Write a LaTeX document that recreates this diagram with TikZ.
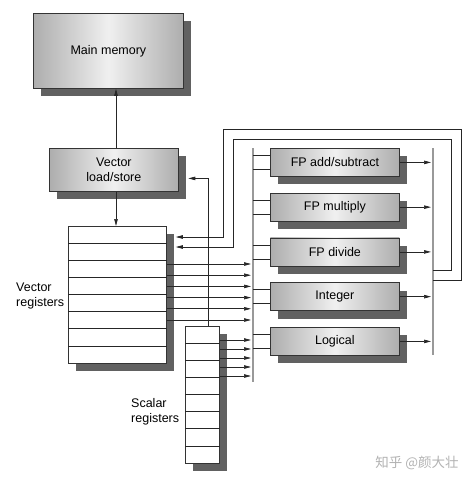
\documentclass[tikz,border=0pt]{standalone}
\usepackage{fontspec}
\setmainfont{Liberation Sans}
\newfontfamily\cjk{Noto Sans CJK SC}
\usetikzlibrary{arrows.meta,shadows,calc}

\tikzset{
  shad/.style={drop shadow={shadow xshift=8pt, shadow yshift=-8pt, fill=black!62, opacity=1}},
  box/.style={shad, draw=black!80, line width=0.8pt, left color=black!32, right color=black!32,
    middle color=black!6, align=center, inner sep=0pt, font=\fontsize{12.5}{14.6}\selectfont},
  regs/.style={shad, draw=black!80, line width=0.8pt, fill=white, inner sep=0pt},
  lbl/.style={anchor=west, align=left, inner sep=0pt, font=\fontsize{12.5}{15}\selectfont},
  bus/.style={line width=1.8pt, black!40},
  wire/.style={line width=0.7pt, black!85},
  arr/.style={wire, -{Triangle[length=7pt,width=3.5pt]}},
}

\begin{document}
\begin{tikzpicture}[x=1pt,y=-1pt]
\useasboundingbox (0,0) rectangle (474,482);

% memory and load/store unit
\node[box, anchor=north west, minimum width=150pt, minimum height=75pt] (mem) at (33,13) {Main memory};
\node[box, anchor=north west, minimum width=129pt, minimum height=43pt] (ls) at (49,148) {Vector\\load/store};

% register files
\node[regs, anchor=north west, minimum width=98pt, minimum height=137pt] (vreg) at (68,226) {};
\foreach \k in {1,...,7}
  \draw[wire] ($(vreg.north west)+(0,{\k*137/8})$) -- ($(vreg.north east)+(0,{\k*137/8})$);
\node[regs, anchor=north west, minimum width=34pt, minimum height=137pt] (sreg) at (185,326) {};
\foreach \k in {1,...,7}
  \draw[wire] ($(sreg.north west)+(0,{\k*137/8})$) -- ($(sreg.north east)+(0,{\k*137/8})$);
\node[lbl] (vlbl) at (16,296) {Vector\\registers};
\node[lbl] (slbl) at (131,412) {Scalar\\registers};

% buses
\coordinate (lbtop) at (253,148);
\coordinate (lbbot) at (253,382);
\coordinate (rbtop) at (433,148);
\coordinate (rbbot) at (433,355);
\draw[bus] (lbtop) -- (lbbot);
\draw[bus] (rbtop) -- (rbbot);

% functional units
\foreach \nm/\txt [count=\i from 0] in {fpadd/{FP add/subtract}, fpmul/{FP multiply},
    fpdiv/{FP divide}, intu/{Integer}, logic/{Logical}} {
  \node[box, anchor=north west, minimum width=129pt, minimum height=28pt] (\nm) at (270,{148+44.75*\i}) {\txt};
  \coordinate (\nm a) at ($(\nm.west)+(0,-7)$);
  \coordinate (\nm b) at ($(\nm.west)+(0,7)$);
  \draw[wire] (\nm a) -- (\nm a -| lbtop);
  \draw[wire] (\nm b) -- (\nm b -| lbtop);
  \draw[arr, shorten >=2pt] (\nm.east) -- (\nm.east -| rbtop);
}

% memory traffic
\draw[arr] (ls.north -| 116,0) -- (mem.south -| 116,0);
\draw[arr] (ls.south -| 116,0) -- (vreg.north -| 116,0);

% register reads
\foreach \k [evaluate=\k as \yy using 264+11.2*\k] in {0,...,5}
  \draw[arr, shorten >=2pt] (vreg.east |- 0,\yy) -- (lbtop |- 0,\yy);
\foreach \k [evaluate=\k as \yy using 340+9*\k] in {0,...,4}
  \draw[arr, shorten >=2pt] (sreg.east |- 0,\yy) -- (lbtop |- 0,\yy);

% results back to vector registers
\draw[arr] (rbtop |- 0,280) -- (461,280) |- (223,129) |- ($(vreg.east |- 0,237)+(9,0)$);
\draw[arr] (rbtop |- 0,270) -- (451,270) |- (233,139) |- ($(vreg.east |- 0,247)+(9,0)$);

% scalar to load/store
\draw[arr] ($(sreg.north)+(6,0)$) |- ($(ls.east)+(9.5,8.5)$);

\node[font=\cjk\fontsize{13.5}{14}\selectfont, text=black!30] (wm) at (417,463) {知乎 @颜大壮};
\end{tikzpicture}
\end{document}
